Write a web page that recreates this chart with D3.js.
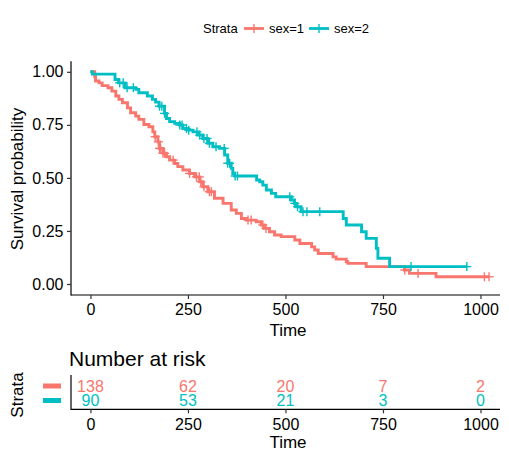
<!DOCTYPE html>
<html><head><meta charset="utf-8">
<script src="https://cdn.jsdelivr.net/npm/d3@7"></script>
<style>body{margin:0;background:#fff}svg{display:block;font-family:"Liberation Sans",Arial,sans-serif}</style>
</head><body><svg id="c" width="509" height="458"></svg>
<script>
// ---- data ----
const strata = ["sex=1", "sex=2"];
const colors = ["#F8766D", "#00BFC4"];
// Kaplan-Meier step points: [time, survival]
const surv1 = [[0,1.0],[11,0.978],[13,0.957],[22,0.948],[30,0.935],[45,0.925],[55,0.909],[65,0.886],[73,0.870],[82,0.854],[95,0.830],[103,0.807],[116,0.791],[124,0.776],[137,0.752],[150,0.741],[160,0.717],[165,0.694],[173,0.670],[177,0.639],[186,0.616],[195,0.600],[203,0.584],[216,0.568],[224,0.553],[237,0.537],[254,0.521],[267,0.505],[280,0.482],[288,0.458],[301,0.435],[318,0.404],[340,0.380],[361,0.349],[374,0.333],[387,0.309],[400,0.301],[425,0.293],[438,0.278],[446,0.262],[459,0.246],[472,0.231],[489,0.223],[524,0.207],[537,0.191],[567,0.175],[575,0.160],[584,0.144],[622,0.128],[630,0.117],[656,0.105],[660,0.097],[707,0.082],[805,0.066],[818,0.050],[886,0.034]];
const end1 = 1022;
const cens1 = [166,174,177,180,186,190,212,254,272,279,283,291,305,310,404,412,442,450,806,840,1010,1022];
const surv2 = [[0,1.0],[5,0.989],[63,0.964],[72,0.948],[89,0.925],[116,0.917],[124,0.901],[146,0.886],[159,0.870],[167,0.857],[176,0.838],[190,0.804],[195,0.780],[203,0.765],[216,0.757],[229,0.749],[237,0.733],[250,0.725],[263,0.717],[276,0.702],[288,0.686],[301,0.663],[314,0.647],[331,0.639],[344,0.608],[352,0.569],[361,0.545],[365,0.521],[370,0.509],[426,0.490],[434,0.482],[442,0.466],[451,0.443],[464,0.427],[475,0.411],[515,0.396],[523,0.380],[527,0.364],[540,0.341],[648,0.309],[656,0.278],[695,0.246],[707,0.215],[733,0.168],[737,0.121],[767,0.082]];
const end2 = 965;
const cens2 = [75,84,94,110,177,183,190,229,235,246,252,273,280,291,299,305,322,343,352,357,371,377,511,524,531,545,555,588,822,965];
const yTicks = [0, 0.25, 0.5, 0.75, 1];
const xTicks = [0, 250, 500, 750, 1000];
const risk1 = [138, 62, 20, 7, 2];
const risk2 = [90, 53, 21, 3, 0];

const svg = d3.select("#c");
const x = d3.scaleLinear().domain([-51.1, 1073.1]).range([70.5, 509]);
const y = d3.scaleLinear().domain([-0.05, 1.05]).range([294.6, 61.2]);

const font = "\"Liberation Sans\",Arial,sans-serif";

// axes main
const gx = svg.append("g").attr("transform", "translate(0,295)")
  .call(d3.axisBottom(x).tickValues(xTicks).tickSize(4).tickPadding(5).tickFormat(d3.format("d")));
const gy = svg.append("g").attr("transform", "translate(71,0)")
  .call(d3.axisLeft(y).tickValues(yTicks).tickSize(4).tickPadding(3.5).tickFormat(d3.format(".2f")));
[gx, gy].forEach(g => {
  g.select(".domain").attr("stroke", "#000").attr("stroke-width", 1.2);
  g.selectAll(".tick line").attr("stroke", "#333").attr("stroke-width", 1.2);
  g.selectAll(".tick text").attr("fill", "#000").style("font-size", "16px").style("font-family", font);
});
gx.select(".domain").attr("d", "M71,0H500");
gy.select(".domain").attr("d", "M0,61.2V295.5");

svg.append("text").attr("x", 288).attr("y", 335.5).attr("text-anchor", "middle")
  .style("font-size", "17px").text("Time");
svg.append("text").attr("transform", "translate(23,179) rotate(-90)").attr("text-anchor", "middle")
  .style("font-size", "17px").text("Survival probability");

function stepAt(arr, t) { let s = arr[0][1]; for (const p of arr) { if (p[0] <= t) s = p[1]; } return s; }

const line = d3.line().x(d => x(d[0])).y(d => y(d[1])).curve(d3.curveStepAfter);
const series = [
  {pts: surv1, end: end1, cens: cens1, col: colors[0]},
  {pts: surv2, end: end2, cens: cens2, col: colors[1]}
];
series.forEach(s => {
  const data = s.pts.concat([[s.end, s.pts[s.pts.length - 1][1]]]);
  svg.append("path").datum(data).attr("d", line).attr("fill", "none")
    .attr("stroke", s.col).attr("stroke-width", 2.9).attr("stroke-linejoin", "miter");
  const g = svg.append("g").attr("stroke", s.col).attr("stroke-width", 1.4);
  s.cens.forEach(t => {
    const cx = x(t), cy = y(stepAt(s.pts, t));
    g.append("line").attr("x1", cx - 4.5).attr("x2", cx + 4.5).attr("y1", cy).attr("y2", cy);
    g.append("line").attr("x1", cx).attr("x2", cx).attr("y1", cy - 4.5).attr("y2", cy + 4.5);
  });
});

// legend
svg.append("text").attr("x", 203).attr("y", 33).style("font-size", "13px").text("Strata");
const lg = [[244, 269, "sex=1"], [309, 334, "sex=2"]];
lg.forEach((l, i) => {
  svg.append("line").attr("x1", l[0]).attr("x2", l[0] + 20).attr("y1", 28.5).attr("y2", 28.5)
    .attr("stroke", colors[i]).attr("stroke-width", 2.8);
  svg.append("line").attr("x1", l[0] + 10).attr("x2", l[0] + 10).attr("y1", 24).attr("y2", 33)
    .attr("stroke", colors[i]).attr("stroke-width", 1.4);
  svg.append("text").attr("x", l[1]).attr("y", 33).style("font-size", "13px").text(l[2]);
});

// risk table
svg.append("text").attr("x", 69).attr("y", 366).style("font-size", "21px").text("Number at risk");
const ry = d3.scalePoint().domain(strata).range([386, 400.5]);
const gr = svg.append("g").attr("transform", "translate(0,409.3)")
  .call(d3.axisBottom(x).tickValues(xTicks).tickSize(4).tickPadding(5).tickFormat(d3.format("d")));
gr.select(".domain").attr("d", "M71,0H500").attr("stroke", "#000").attr("stroke-width", 1.2);
gr.selectAll(".tick line").attr("stroke", "#333").attr("stroke-width", 1.2);
gr.selectAll(".tick text").attr("fill", "#000").style("font-size", "16px").style("font-family", font);
svg.append("line").attr("x1", 71).attr("x2", 71).attr("y1", 375).attr("y2", 409.9)
  .attr("stroke", "#000").attr("stroke-width", 1.2);
[risk1, risk2].forEach((r, i) => {
  r.forEach((v, j) => {
    svg.append("text").attr("x", x(xTicks[j])).attr("y", ry(strata[i]) + 5.8).attr("text-anchor", "middle")
      .attr("fill", colors[i]).style("font-size", "16px").text(v);
  });
  svg.append("line").attr("x1", 43).attr("x2", 61).attr("y1", ry(strata[i])).attr("y2", ry(strata[i]))
    .attr("stroke", colors[i]).attr("stroke-width", 5);
});
svg.append("text").attr("x", 288).attr("y", 448).attr("text-anchor", "middle")
  .style("font-size", "17px").text("Time");
svg.append("text").attr("transform", "translate(23,395) rotate(-90)").attr("text-anchor", "middle")
  .style("font-size", "17px").text("Strata");
</script></body></html>
